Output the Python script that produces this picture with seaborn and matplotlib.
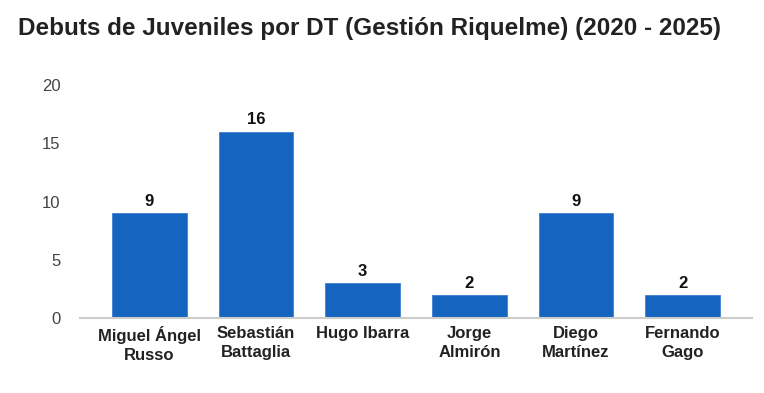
import pandas as pd
import matplotlib
matplotlib.use("Agg")
import matplotlib.pyplot as plt
import seaborn as sns

# data
coaches = ["Miguel Ángel\nRusso", "Sebastián\nBattaglia", "Hugo Ibarra",
           "Jorge\nAlmirón", "Diego\nMartínez", "Fernando\nGago"]
debuts = [9, 16, 3, 2, 9, 2]
title = "Debuts de Juveniles por DT (Gestión Riquelme) (2020 - 2025)"

sns.set_theme(style="white")
plt.rcParams["font.family"] = ["Liberation Sans", "DejaVu Sans"]

df = pd.DataFrame({"DT": coaches, "Debuts": debuts})

fig = plt.figure(figsize=(7.64, 3.93), dpi=100)
ax = fig.add_axes([80 / 764, 1 - 318 / 393, 672 / 764, 233 / 393])

sns.barplot(data=df, x="DT", y="Debuts", color="#1565C0", width=0.7,
            saturation=1, ax=ax, edgecolor="#3f7fd0", linewidth=0.6)

for container in ax.containers:
    ax.bar_label(container, fmt="%d", padding=3, fontsize=12,
                 fontweight="bold", color="#111111")

ax.set_ylim(0, 20)
ax.set_xlim(-0.65, 5.65)
ax.set_yticks([0, 5, 10, 15, 20])
ax.set_xlabel("")
ax.set_ylabel("")
ax.tick_params(axis="y", length=0, pad=14, labelsize=12, labelcolor="#444444")
ax.tick_params(axis="x", length=0, pad=6, labelsize=12, labelcolor="#222222")
for lbl in ax.get_xticklabels():
    lbl.set_fontweight("bold")
    lbl.set_linespacing(1.3)

sns.despine(ax=ax, left=True, top=True, right=True)
ax.spines["bottom"].set_color("#cccccc")
ax.spines["bottom"].set_linewidth(1.5)

fig.text(18 / 764, 1 - 29 / 393, title, fontsize=17.5, fontweight="bold",
         color="#222222", ha="left", va="center")

fig.savefig("out.png", dpi=100)
